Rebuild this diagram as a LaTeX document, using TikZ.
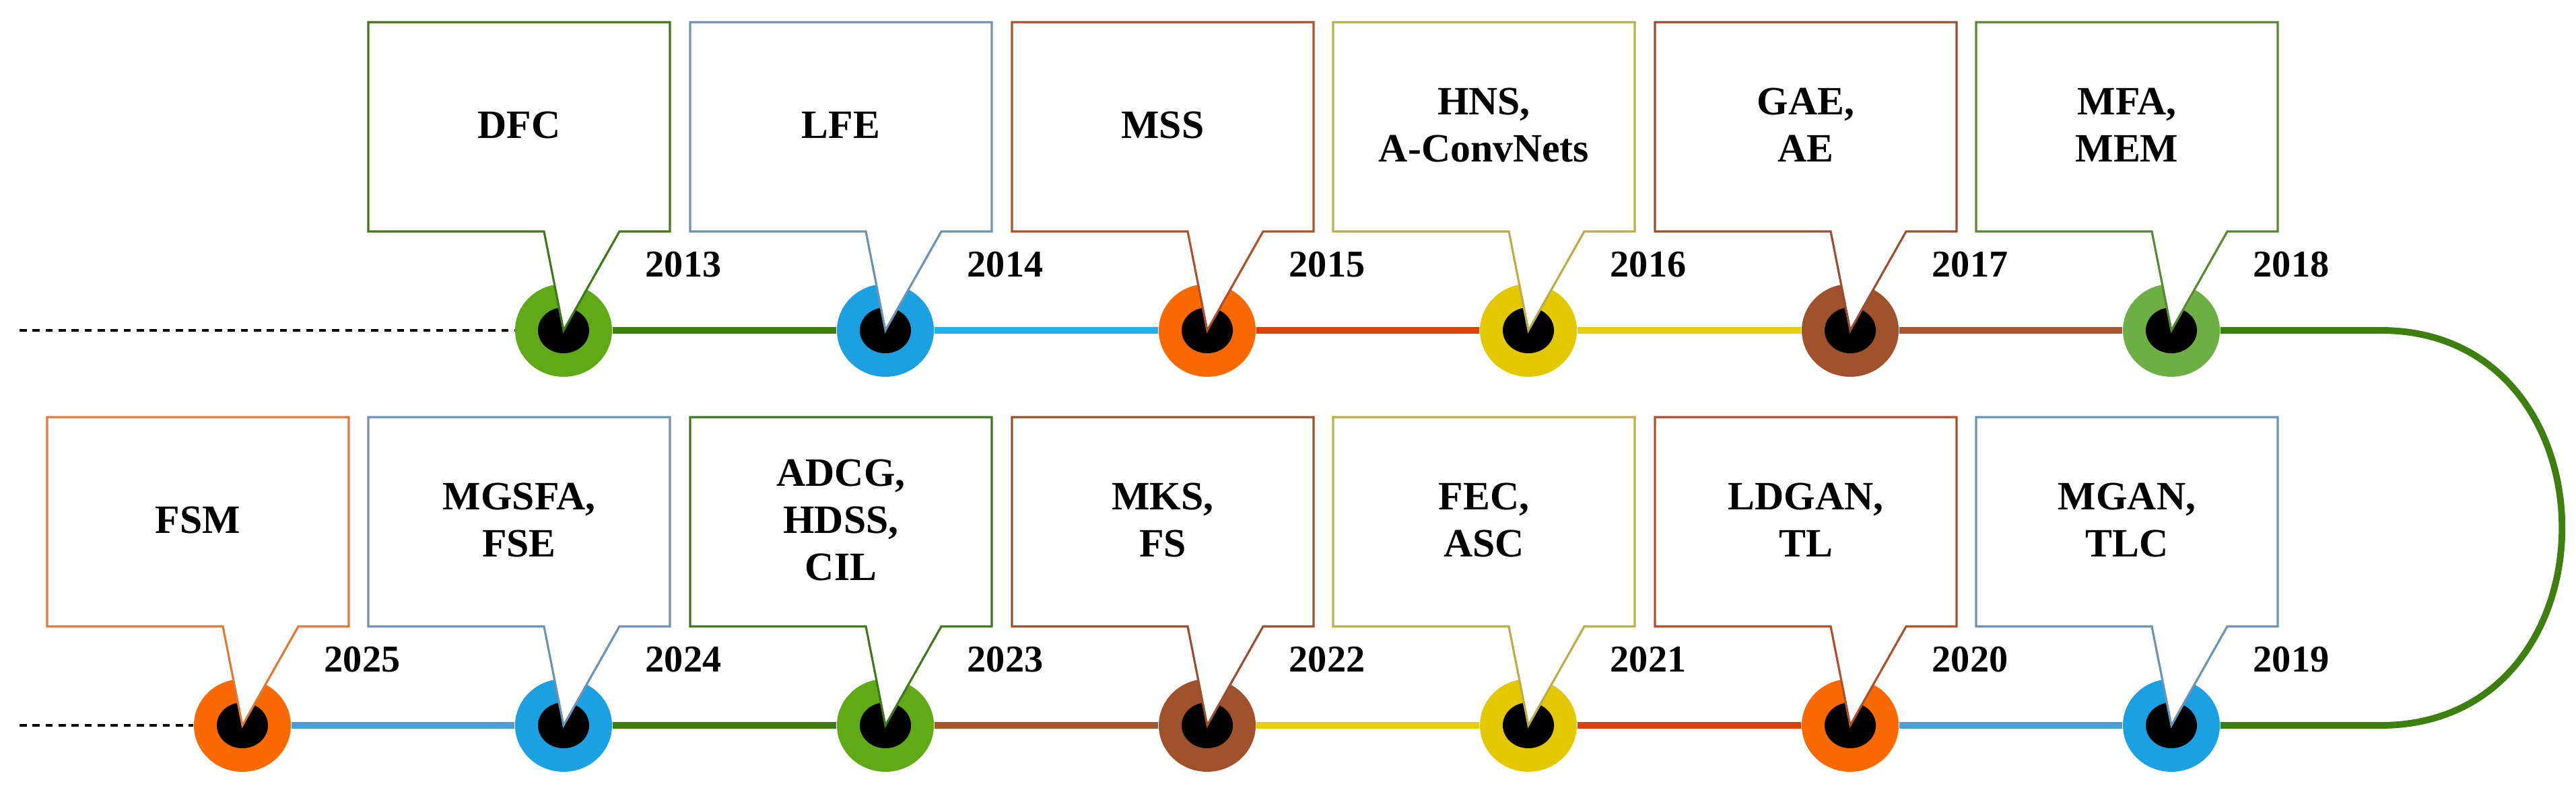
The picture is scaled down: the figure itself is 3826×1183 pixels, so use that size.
\documentclass[tikz,border=0pt]{standalone}
\usepackage{fontspec}
\setmainfont{Liberation Serif}
\begin{document}
\begin{tikzpicture}[x=0.01cm,y=-0.01cm,
  dot/.style={ellipse,minimum width=1.44cm,minimum height=1.38cm,inner sep=0pt},
  hole/.style={ellipse,fill=black,minimum width=0.76cm,minimum height=0.68cm,inner sep=0pt},
  tl/.style={line width=2.8pt},
  lbl/.style={align=center,font=\fontsize{17}{20}\selectfont\bfseries},
  yr/.style={font=\fontsize{16}{18}\selectfont\bfseries}]
\usetikzlibrary{shapes.geometric}
\definecolor{cGreen}{HTML}{60A917}
\definecolor{cBlue}{HTML}{1BA1E2}
\definecolor{cOrange}{HTML}{FA6800}
\definecolor{cYellow}{HTML}{E3C800}
\definecolor{cBrown}{HTML}{A0522D}
\definecolor{cLGreen}{HTML}{6DAF45}
\definecolor{bDG}{HTML}{3E7A1A}
\definecolor{bSB}{HTML}{6A93B5}
\definecolor{bRed}{HTML}{B0502A}
\definecolor{bOl}{HTML}{BCAE45}
\definecolor{bBr}{HTML}{9B4F2E}
\definecolor{bGr}{HTML}{568A2E}
\definecolor{bOr}{HTML}{E07A3A}
\definecolor{lGreen}{HTML}{3D8010}
\definecolor{lBlue}{HTML}{22B0E6}
\definecolor{lRed}{HTML}{D8420E}
\definecolor{lYel}{HTML}{E8CC10}
\definecolor{lBr}{HTML}{A9552F}
\definecolor{lSB}{HTML}{4C9ED6}
\useasboundingbox (0,0) rectangle (3826,1183);
% nodes (circles)
\foreach \n/\x/\y/\c in {1/837/491/cGreen,2/1315/491/cBlue,3/1793/491/cOrange,4/2270/491/cYellow,5/2748/491/cBrown,6/3225/491/cLGreen,
  7/3225/1078/cBlue,8/2748/1078/cOrange,9/2270/1078/cYellow,10/1793/1078/cBrown,11/1315/1078/cGreen,12/837/1078/cBlue,13/360/1078/cOrange}
  \node[dot] (c\n) at (\x,\y) {};
% timeline segments
\foreach \a/\b/\c in {1/2/lGreen,2/3/lBlue,3/4/lRed,4/5/lYel,5/6/lBr,7/8/lSB,8/9/lRed,9/10/lYel,10/11/lBr,11/12/lGreen,12/13/lSB}
  \draw[tl,\c] (c\a) -- (c\b);
\coordinate (r1) at (3536,491);
\coordinate (r2) at (3536,1078);
\draw[tl,lGreen] (c6) -- (r1) .. controls (3895,491) and (3895,1078) .. (r2) -- (c7);
\coordinate (d1) at (29,491);
\coordinate (d2) at (29,1078);
\draw[line width=1.1pt,dash pattern=on 3pt off 2.5pt] (d1) -- (c1);
\draw[line width=1.1pt,dash pattern=on 3pt off 2.5pt] (d2) -- (c13);
% circles over lines
\foreach \n/\x/\y/\c in {1/837/491/cGreen,2/1315/491/cBlue,3/1793/491/cOrange,4/2270/491/cYellow,5/2748/491/cBrown,6/3225/491/cLGreen,
  7/3225/1078/cBlue,8/2748/1078/cOrange,9/2270/1078/cYellow,10/1793/1078/cBrown,11/1315/1078/cGreen,12/837/1078/cBlue,13/360/1078/cOrange}
  {\fill[\c] (c\n.center) ellipse[x radius=72,y radius=69];
   \node[hole] (h\n) at (c\n) {};}
% callout boxes
\foreach \n/\x/\y/\bc/\t/\yy in {1/837/491/bDG/DFC/2013,2/1315/491/bSB/LFE/2014,3/1793/491/bRed/MSS/2015,
  4/2270/491/bOl/{HNS,\\A-ConvNets}/2016,5/2748/491/bBr/{GAE,\\AE}/2017,6/3225/491/bGr/{MFA,\\MEM}/2018,
  7/3225/1078/bSB/{MGAN,\\TLC}/2019,8/2748/1078/bRed/{LDGAN,\\TL}/2020,9/2270/1078/bOl/{FEC,\\ASC}/2021,
  10/1793/1078/bBr/{MKS,\\FS}/2022,11/1315/1078/bDG/{ADCG,\\HDSS,\\CIL}/2023,12/837/1078/bSB/{MGSFA,\\FSE}/2024,13/360/1078/bOr/FSM/2025}
  {\draw[\bc,line width=0.9pt,fill=white,line join=miter]
     (\x-290,\y-458) -- (\x+158,\y-458) -- (\x+158,\y-147) -- (\x+83,\y-147) -- (c\n.center)
     -- (\x-29,\y-147) -- (\x-290,\y-147) -- cycle;
   \node[lbl] (b\n) at (\x-66,\y-305) {\t};
   \node[yr] (y\n) at (\x+178,\y-98) {\yy};}
\end{tikzpicture}
\end{document}
